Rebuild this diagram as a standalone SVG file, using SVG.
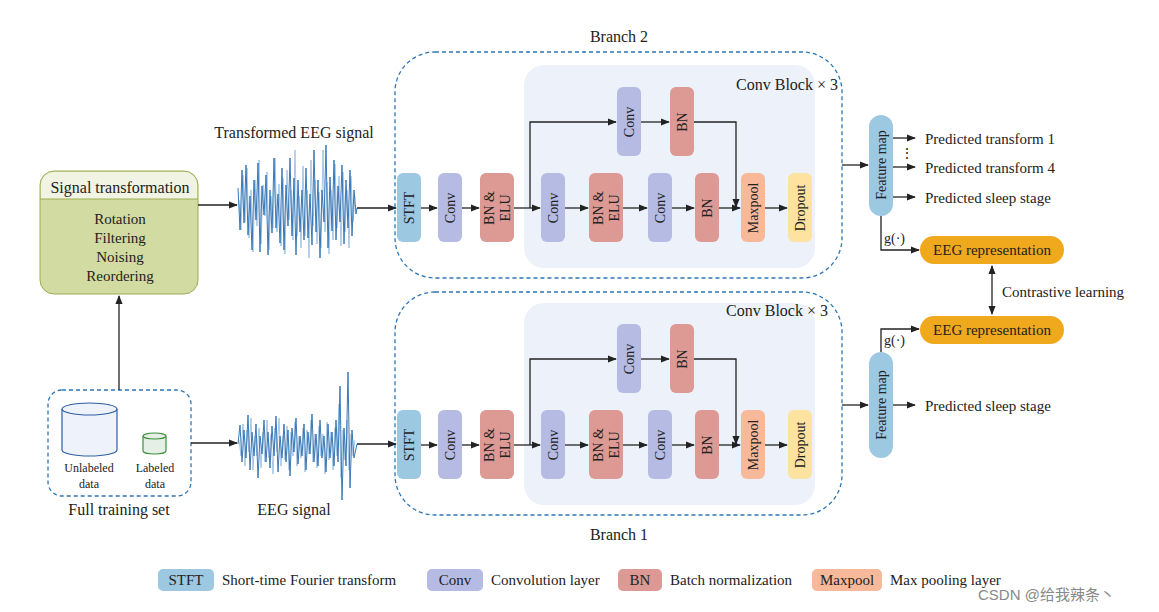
<svg xmlns="http://www.w3.org/2000/svg" width="1159" height="612" viewBox="0 0 1159 612">
<defs>
<marker id="ah" viewBox="0 0 10 10" refX="9" refY="5" markerWidth="7" markerHeight="7" orient="auto-start-reverse"><path d="M0,1 L10,5 L0,9 z" fill="#222"/></marker>
<style>
text{font-family:"Liberation Serif",serif;fill:#222}
.t{font-size:16px}
.n{font-size:14px;text-anchor:middle;dominant-baseline:central}
.c{stroke:#222;stroke-width:1.3;fill:none}
.a{marker-end:url(#ah)}
.dash{fill:none;stroke:#2e75b6;stroke-width:1.3;stroke-dasharray:4,3}
.blk{fill:#edf2fa}
.stft{fill:#9dc8e2}.conv{fill:#b5bbe3}.bn{fill:#dd9993}.mp{fill:#f8b99b}.dr{fill:#fde2a0}.fm{fill:#9dc8e2}
.rep{fill:#f0a81c}
.sig1{fill:none;stroke:#3a78b5;stroke-width:1}
.sig2{fill:none;stroke:#8fb8df;stroke-width:0.8}
</style>
</defs>
<rect width="1159" height="612" fill="#fff"/>

<!-- left -->
<g id="signal-transformation">
<rect x="40" y="171" width="158" height="123" rx="14" fill="#d2dba1" stroke="#9aae55"/>
<path d="M41,199 V184 a13,13 0 0 1 13,-12 H184 a13,13 0 0 1 13,12 V199 Z" fill="#f1f3e3"/>
<line x1="40" y1="199" x2="198" y2="199" stroke="#9aae55"/>
<text class="t" x="120" y="193" text-anchor="middle">Signal transformation</text>
<text x="120" y="224" font-size="15" text-anchor="middle">Rotation</text>
<text x="120" y="243" font-size="15" text-anchor="middle">Filtering</text>
<text x="120" y="262" font-size="15" text-anchor="middle">Noising</text>
<text x="120" y="281" font-size="15" text-anchor="middle">Reordering</text>
</g>
<g id="full-training-set">
<rect x="48" y="390" width="143" height="106" rx="14" class="dash"/>
<path d="M62,409 V450 a27.5,6 0 0 0 55,0 V409" fill="#edf2fb" stroke="#2e5fa0" stroke-width="1.2"/>
<ellipse cx="89.5" cy="409" rx="27.5" ry="6" fill="#edf2fb" stroke="#2e5fa0" stroke-width="1.2"/>
<path d="M143,436 V451 a11.5,3 0 0 0 23,0 V436" fill="#e6efe6" stroke="#3f8f3f" stroke-width="1.2"/>
<ellipse cx="154.5" cy="436" rx="11.5" ry="3" fill="#e6efe6" stroke="#3f8f3f" stroke-width="1.2"/>
<text x="89" y="472" font-size="12" text-anchor="middle">Unlabeled</text>
<text x="89" y="488" font-size="12" text-anchor="middle">data</text>
<text x="155" y="472" font-size="12" text-anchor="middle">Labeled</text>
<text x="155" y="488" font-size="12" text-anchor="middle">data</text>
<text class="t" x="119" y="515" text-anchor="middle">Full training set</text>
</g>
<g id="signals">
<text class="t" x="294" y="138" text-anchor="middle">Transformed EEG signal</text>
<polyline class="sig2" points="239,200 241,230 243,175 245,222 247,168 249,238 251,190 253,252 255,180 257,226 259,160 261,244 263,185 265,216 267,172 269,250 271,196 273,228 275,158 277,232 279,184 281,246 283,178 285,254 287,170 289,220 291,190 293,240 295,150 297,236 299,196 301,248 303,166 305,236 307,190 309,258 311,160 313,226 315,180 317,244 319,192 321,248 323,150 325,232 327,182 329,254 331,190 333,240 335,164 337,228 339,176 341,246 343,172 345,232 347,190 349,248 351,176 353,222 355,196"/>
<polyline class="sig1" points="238,188 240,230 242,170 244,223 246,165 248,235 250,196 252,250 254,180 256,220 258,163 260,252 262,186 264,215 266,175 268,255 270,190 272,233 274,158 276,228 278,194 280,243 282,168 284,250 286,185 288,226 290,158 292,236 294,178 296,255 298,180 300,232 302,190 304,240 306,168 308,238 310,194 312,245 314,150 316,232 318,180 320,258 322,190 324,222 326,145 328,248 330,177 332,231 334,160 336,240 338,186 340,222 342,165 344,244 346,180 348,228 350,170 352,236 354,190 356,214 357,208"/>
<text class="t" x="294" y="515" text-anchor="middle">EEG signal</text>
<polyline class="sig2" points="239,440 241,456 243,424 245,466 247,430 249,452 251,418 253,470 255,436 257,456 259,428 261,468 263,432 265,462 267,420 269,458 271,434 273,474 275,428 277,452 279,418 281,466 283,436 285,460 287,426 289,470 291,432 293,456 295,422 297,466 299,436 301,458 303,428 305,472 307,430 309,454 311,420 313,462 315,434 317,468 319,426 321,456 323,434 325,474 327,422 329,460 331,432 333,470 335,428 337,456 339,404 341,478 343,430 345,460 347,420 349,470 351,434 353,456 355,440"/>
<polyline class="sig1" points="238,444 240,425 242,462 244,430 246,458 248,415 250,470 252,432 254,456 256,424 258,478 260,436 262,454 264,420 266,462 268,432 270,468 272,426 274,456 276,416 278,472 280,436 282,458 284,424 286,462 288,430 290,476 292,428 294,452 296,418 298,464 300,436 302,456 304,424 306,470 308,432 310,454 312,414 314,462 316,434 318,466 320,420 322,458 324,436 326,472 328,424 330,458 332,432 334,466 336,420 338,462 340,386 342,500 344,428 346,466 348,372 350,488 352,430 354,458 357,444"/>
</g>

<!-- branches -->
<g id="branch2">
<rect x="395" y="52" width="447" height="226" rx="40" class="dash"/>
<text class="t" x="619" y="42" text-anchor="middle">Branch 2</text>
<rect x="524" y="65" width="291" height="203" rx="20" class="blk"/>
<text class="t" x="838" y="90" text-anchor="end">Conv Block × 3</text>
</g>
<g id="branch1">
<rect x="395" y="292" width="447" height="223" rx="40" class="dash"/>
<text class="t" x="619" y="540" text-anchor="middle">Branch 1</text>
<rect x="524" y="303" width="291" height="202" rx="20" class="blk"/>
<text class="t" x="828" y="316" text-anchor="end">Conv Block × 3</text>
</g>

<g id="nodes-b2">
<rect class="stft" x="397" y="173" width="24" height="69" rx="6"/><text class="n" transform="translate(409,208) rotate(-90)">STFT</text>
<rect class="conv" x="438" y="173" width="24" height="69" rx="6"/><text class="n" transform="translate(450,208) rotate(-90)">Conv</text>
<rect class="bn" x="480" y="173" width="34" height="69" rx="6"/><text class="n" transform="translate(497,208) rotate(-90)"><tspan x="0" dy="-8">BN &amp;</tspan><tspan x="0" dy="16">ELU</tspan></text>
<rect class="conv" x="541" y="173" width="24" height="69" rx="6"/><text class="n" transform="translate(553,208) rotate(-90)">Conv</text>
<rect class="bn" x="589" y="173" width="34" height="69" rx="6"/><text class="n" transform="translate(606,208) rotate(-90)"><tspan x="0" dy="-8">BN &amp;</tspan><tspan x="0" dy="16">ELU</tspan></text>
<rect class="conv" x="648" y="173" width="24" height="69" rx="6"/><text class="n" transform="translate(660,208) rotate(-90)">Conv</text>
<rect class="bn" x="695" y="173" width="24" height="69" rx="6"/><text class="n" transform="translate(707,208) rotate(-90)">BN</text>
<rect class="mp" x="741" y="173" width="24" height="69" rx="6"/><text class="n" transform="translate(753,208) rotate(-90)">Maxpool</text>
<rect class="dr" x="788" y="173" width="24" height="69" rx="6"/><text class="n" transform="translate(800,208) rotate(-90)">Dropout</text>
<rect class="conv" x="617" y="87" width="24" height="69" rx="6"/><text class="n" transform="translate(629,122) rotate(-90)">Conv</text>
<rect class="bn" x="670" y="87" width="24" height="69" rx="6"/><text class="n" transform="translate(682,122) rotate(-90)">BN</text>
</g>
<g id="nodes-b1">
<rect class="stft" x="397" y="410" width="24" height="69" rx="6"/><text class="n" transform="translate(409,445) rotate(-90)">STFT</text>
<rect class="conv" x="438" y="410" width="24" height="69" rx="6"/><text class="n" transform="translate(450,445) rotate(-90)">Conv</text>
<rect class="bn" x="480" y="410" width="34" height="69" rx="6"/><text class="n" transform="translate(497,445) rotate(-90)"><tspan x="0" dy="-8">BN &amp;</tspan><tspan x="0" dy="16">ELU</tspan></text>
<rect class="conv" x="541" y="410" width="24" height="69" rx="6"/><text class="n" transform="translate(553,445) rotate(-90)">Conv</text>
<rect class="bn" x="589" y="410" width="34" height="69" rx="6"/><text class="n" transform="translate(606,445) rotate(-90)"><tspan x="0" dy="-8">BN &amp;</tspan><tspan x="0" dy="16">ELU</tspan></text>
<rect class="conv" x="648" y="410" width="24" height="69" rx="6"/><text class="n" transform="translate(660,445) rotate(-90)">Conv</text>
<rect class="bn" x="695" y="410" width="24" height="69" rx="6"/><text class="n" transform="translate(707,445) rotate(-90)">BN</text>
<rect class="mp" x="741" y="410" width="24" height="69" rx="6"/><text class="n" transform="translate(753,445) rotate(-90)">Maxpool</text>
<rect class="dr" x="788" y="410" width="24" height="69" rx="6"/><text class="n" transform="translate(800,445) rotate(-90)">Dropout</text>
<rect class="conv" x="617" y="324" width="24" height="69" rx="6"/><text class="n" transform="translate(629,359) rotate(-90)">Conv</text>
<rect class="bn" x="670" y="324" width="24" height="69" rx="6"/><text class="n" transform="translate(682,359) rotate(-90)">BN</text>
</g>

<g id="outputs">
<rect class="fm" x="869" y="115" width="24" height="101" rx="12"/><text class="n" transform="translate(881,165) rotate(-90)">Feature map</text>
<rect class="fm" x="869" y="352" width="24" height="106" rx="12"/><text class="n" transform="translate(881,405) rotate(-90)">Feature map</text>
<text x="925" y="144" font-size="15">Predicted transform 1</text>
<text x="925" y="173" font-size="15">Predicted transform 4</text>
<text x="925" y="203" font-size="15">Predicted sleep stage</text>
<text x="925" y="411" font-size="15">Predicted sleep stage</text>
<text x="907" y="158" font-size="14" text-anchor="middle">⋮</text>
<rect class="rep" x="920" y="236" width="144" height="28" rx="14"/><text x="992" y="255" font-size="15" text-anchor="middle">EEG representation</text>
<rect class="rep" x="920" y="316" width="144" height="28" rx="14"/><text x="992" y="335" font-size="15" text-anchor="middle">EEG representation</text>
<text x="884" y="243" font-size="14">g(·)</text>
<text x="884" y="345" font-size="14">g(·)</text>
<text x="1002" y="297" font-size="15">Contrastive learning</text>
</g>

<g id="connectors">
<line class="c a" x1="198" y1="205" x2="237" y2="205"/>
<line class="c a" x1="119" y1="390" x2="119" y2="296"/>
<line class="c a" x1="191" y1="443" x2="237" y2="443"/>
<line class="c a" x1="357" y1="208" x2="396" y2="208"/>
<line class="c a" x1="357" y1="444" x2="396" y2="444"/>
<!-- b2 -->
<line class="c a" x1="421" y1="208" x2="437" y2="208"/>
<line class="c a" x1="462" y1="208" x2="479" y2="208"/>
<line class="c a" x1="514" y1="208" x2="540" y2="208"/>
<line class="c a" x1="565" y1="208" x2="588" y2="208"/>
<line class="c a" x1="623" y1="208" x2="647" y2="208"/>
<line class="c a" x1="672" y1="208" x2="694" y2="208"/>
<line class="c a" x1="719" y1="208" x2="740" y2="208"/>
<line class="c a" x1="765" y1="208" x2="787" y2="208"/>
<polyline class="c a" points="530,208 530,122 616,122"/>
<line class="c a" x1="641" y1="122" x2="669" y2="122"/>
<polyline class="c a" points="694,122 736,122 736,207"/>
<!-- b1 -->
<line class="c a" x1="421" y1="445" x2="437" y2="445"/>
<line class="c a" x1="462" y1="445" x2="479" y2="445"/>
<line class="c a" x1="514" y1="445" x2="540" y2="445"/>
<line class="c a" x1="565" y1="445" x2="588" y2="445"/>
<line class="c a" x1="623" y1="445" x2="647" y2="445"/>
<line class="c a" x1="672" y1="445" x2="694" y2="445"/>
<line class="c a" x1="719" y1="445" x2="740" y2="445"/>
<line class="c a" x1="765" y1="445" x2="787" y2="445"/>
<polyline class="c a" points="530,445 530,359 616,359"/>
<line class="c a" x1="641" y1="359" x2="669" y2="359"/>
<polyline class="c a" points="694,359 736,359 736,444"/>
<!-- right -->
<line class="c a" x1="842" y1="165" x2="868" y2="165"/>
<line class="c a" x1="842" y1="405" x2="868" y2="405"/>
<line class="c a" x1="893" y1="138" x2="915" y2="138"/>
<line class="c a" x1="893" y1="167" x2="915" y2="167"/>
<line class="c a" x1="893" y1="197" x2="915" y2="197"/>
<line class="c a" x1="893" y1="405" x2="915" y2="405"/>
<polyline class="c a" points="881,216 881,250 919,250"/>
<polyline class="c a" points="881,352 881,329 919,329"/>
<line class="c a" x1="992" y1="266" x2="992" y2="314" style="marker-start:url(#ah)"/>
</g>

<g id="legend">
<rect class="stft" x="158" y="569" width="56" height="22" rx="5"/><text x="186" y="585" font-size="15" text-anchor="middle">STFT</text>
<text x="222" y="585" font-size="15">Short-time Fourier transform</text>
<rect class="conv" x="427" y="569" width="56" height="22" rx="5"/><text x="455" y="585" font-size="15" text-anchor="middle">Conv</text>
<text x="491" y="585" font-size="15">Convolution layer</text>
<rect class="bn" x="618" y="569" width="44" height="22" rx="5"/><text x="640" y="585" font-size="15" text-anchor="middle">BN</text>
<text x="670" y="585" font-size="15">Batch normalization</text>
<rect class="mp" x="812" y="569" width="70" height="22" rx="5"/><text x="847" y="585" font-size="15" text-anchor="middle">Maxpool</text>
<text x="890" y="585" font-size="15">Max pooling layer</text>
<text x="978" y="600" font-size="15" style="font-family:'Liberation Sans','Noto Sans CJK SC',sans-serif;fill:#888">CSDN @给我辣条丶</text>
</g>
</svg>
